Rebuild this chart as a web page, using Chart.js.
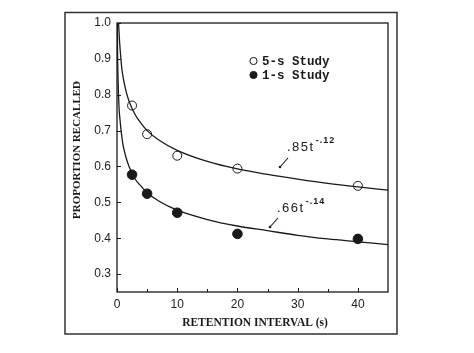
<!DOCTYPE html>
<html>
<head>
<meta charset="utf-8">
<script src="https://cdn.jsdelivr.net/npm/chart.js@4/dist/chart.umd.min.js"></script>
<style>
  html, body { margin: 0; padding: 0; background: #fff; }
  #wrap { width: 474px; height: 353px; }
</style>
</head>
<body>
<div id="wrap"><canvas id="chart" width="474" height="353"></canvas></div>
<script>
// observed points
const studyTimes = [2.5, 5, 10, 20, 40];
const recall5s = [0.77, 0.69, 0.63, 0.594, 0.546];
const recall1s = [0.577, 0.524, 0.471, 0.412, 0.398];

// fitted curves
const fitTimes5s = [0.26, 0.4, 0.6, 0.8, 1, 1.5, 2, 3, 4, 5, 7, 10, 15, 20, 25, 30, 35, 40, 45];
const fit5s = [1.0, 0.955, 0.91, 0.873, 0.85, 0.81, 0.782, 0.745, 0.72, 0.70, 0.673, 0.645, 0.614, 0.593, 0.578, 0.565, 0.553, 0.543, 0.534];
const fitTimes1s = [0.05, 0.1, 0.2, 0.35, 0.5, 0.75, 1, 1.5, 2, 3, 4, 5, 7, 10, 15, 20, 25, 30, 35, 40, 45];
const fit1s = [1.0, 0.91, 0.83, 0.76, 0.73, 0.69, 0.66, 0.625, 0.60, 0.565, 0.545, 0.527, 0.503, 0.478, 0.452, 0.434, 0.421, 0.408, 0.398, 0.39, 0.382];

const xTicks = [0, 10, 20, 30, 40];
const xMinorTicks = [5, 15, 25, 35];
const yTicks = [0.3, 0.4, 0.5, 0.6, 0.7, 0.8, 0.9, 1.0];
const seriesLabels = ["5-s Study", "1-s Study"];
const fitLabels = [[".85t", "-.12"], [".66t", "-.14"]];

const ink = "#1a1a1a";
const toXY = (xs, ys) => xs.map((x, i) => ({ x: x, y: ys[i] }));

// frame, inward ticks, titles, legend and fit labels
const decorations = {
  id: "decorations",
  afterDraw(chart) {
    const { ctx, chartArea: a, scales: { x, y } } = chart;
    ctx.save();
    ctx.strokeStyle = "#333";
    ctx.lineWidth = 1.5;
    ctx.strokeRect(65, 12.5, 332, 321.5);

    ctx.strokeStyle = ink;
    ctx.lineWidth = 1.3;
    ctx.strokeRect(a.left, a.top, a.right - a.left, a.bottom - a.top);

    ctx.lineWidth = 1;
    ctx.beginPath();
    yTicks.forEach(v => {
      const py = Math.round(y.getPixelForValue(v)) + 0.5;
      ctx.moveTo(a.left, py); ctx.lineTo(a.left + 4, py);
    });
    xTicks.forEach(v => {
      const px = Math.round(x.getPixelForValue(v)) + 0.5;
      ctx.moveTo(px, a.bottom); ctx.lineTo(px, a.bottom - 4);
    });
    xMinorTicks.forEach(v => {
      const px = Math.round(x.getPixelForValue(v)) + 0.5;
      ctx.moveTo(px, a.bottom); ctx.lineTo(px, a.bottom - 3);
    });
    ctx.stroke();

    // axis titles
    ctx.fillStyle = ink;
    ctx.textAlign = "center";
    ctx.textBaseline = "middle";
    ctx.font = "bold 11.5px 'Liberation Serif', serif";
    ctx.fillText("RETENTION INTERVAL (s)", 255, 323);
    ctx.save();
    ctx.translate(77, 150);
    ctx.rotate(-Math.PI / 2);
    ctx.font = "bold 11px 'Liberation Serif', serif";
    ctx.fillText("PROPORTION RECALLED", 0, 0);
    ctx.restore();

    // legend
    const legendY = [61, 75];
    ctx.textAlign = "left";
    ctx.font = "bold 12.5px 'Liberation Mono', monospace";
    legendY.forEach((ly, i) => {
      ctx.beginPath();
      ctx.arc(253.5, ly, 3.6, 0, Math.PI * 2);
      ctx.fillStyle = i === 0 ? "#fff" : ink;
      ctx.fill();
      ctx.strokeStyle = ink;
      ctx.lineWidth = 1;
      ctx.stroke();
      ctx.fillStyle = ink;
      ctx.fillText(seriesLabels[i], 262, ly + 0.5);
    });

    // fit labels with arrows
    const fitPos = [
      { tx: 287, ty: 151, ax0: 288, ay0: 158, ax1: 280, ay1: 167 },
      { tx: 277, ty: 212, ax0: 278, ay0: 218, ax1: 270, ay1: 227 }
    ];
    fitPos.forEach((p, i) => {
      ctx.fillStyle = ink;
      ctx.textBaseline = "alphabetic";
      ctx.letterSpacing = "1.5px";
      ctx.font = "13px 'Liberation Sans', sans-serif";
      ctx.fillText(fitLabels[i][0], p.tx, p.ty);
      const w = ctx.measureText(fitLabels[i][0]).width;
      ctx.letterSpacing = "1px";
      ctx.font = "bold 9px 'Liberation Sans', sans-serif";
      ctx.fillText(fitLabels[i][1], p.tx + w + 1, p.ty - 8);
      ctx.letterSpacing = "0px";
      ctx.strokeStyle = ink;
      ctx.lineWidth = 1.1;
      ctx.beginPath();
      ctx.moveTo(p.ax0, p.ay0); ctx.lineTo(p.ax1, p.ay1);
      ctx.stroke();
      ctx.beginPath();
      ctx.arc(p.ax1, p.ay1, 1.3, 0, Math.PI * 2);
      ctx.fill();
    });
    ctx.restore();
  }
};

new Chart(document.getElementById("chart"), {
  type: "scatter",
  data: {
    datasets: [
      {
        label: "fit 5-s",
        data: toXY(fitTimes5s, fit5s),
        showLine: true,
        borderColor: ink,
        borderWidth: 1.3,
        pointRadius: 0,
        cubicInterpolationMode: "monotone"
      },
      {
        label: "fit 1-s",
        data: toXY(fitTimes1s, fit1s),
        showLine: true,
        borderColor: ink,
        borderWidth: 1.3,
        pointRadius: 0,
        cubicInterpolationMode: "monotone"
      },
      {
        label: seriesLabels[0],
        data: toXY(studyTimes, recall5s),
        pointRadius: 4.5,
        pointBackgroundColor: "#fff",
        pointBorderColor: ink,
        pointBorderWidth: 1
      },
      {
        label: seriesLabels[1],
        data: toXY(studyTimes, recall1s),
        pointRadius: 4.8,
        pointBackgroundColor: ink,
        pointBorderColor: ink,
        pointBorderWidth: 1
      }
    ]
  },
  options: {
    responsive: false,
    animation: false,
    layout: { padding: { left: 0, top: 23, right: 86, bottom: 0 } },
    plugins: { legend: { display: false }, tooltip: { enabled: false } },
    scales: {
      x: {
        type: "linear",
        min: 0,
        max: 45,
        afterFit: s => { s.height = 61; },
        afterBuildTicks: s => { s.ticks = xTicks.map(v => ({ value: v })); },
        grid: { display: false, drawTicks: false },
        border: { display: false },
        ticks: { color: "#222", padding: 5, font: { family: "'Liberation Sans', sans-serif", size: 12 } }
      },
      y: {
        type: "linear",
        min: 0.25,
        max: 1.0,
        afterFit: s => { s.width = 117; },
        afterBuildTicks: s => { s.ticks = yTicks.map(v => ({ value: v })); },
        grid: { display: false, drawTicks: false },
        border: { display: false },
        ticks: {
          color: "#222",
          padding: 6,
          font: { family: "'Liberation Sans', sans-serif", size: 12 },
          callback: v => v.toFixed(1)
        }
      }
    }
  },
  plugins: [decorations]
});
</script>
</body>
</html>
